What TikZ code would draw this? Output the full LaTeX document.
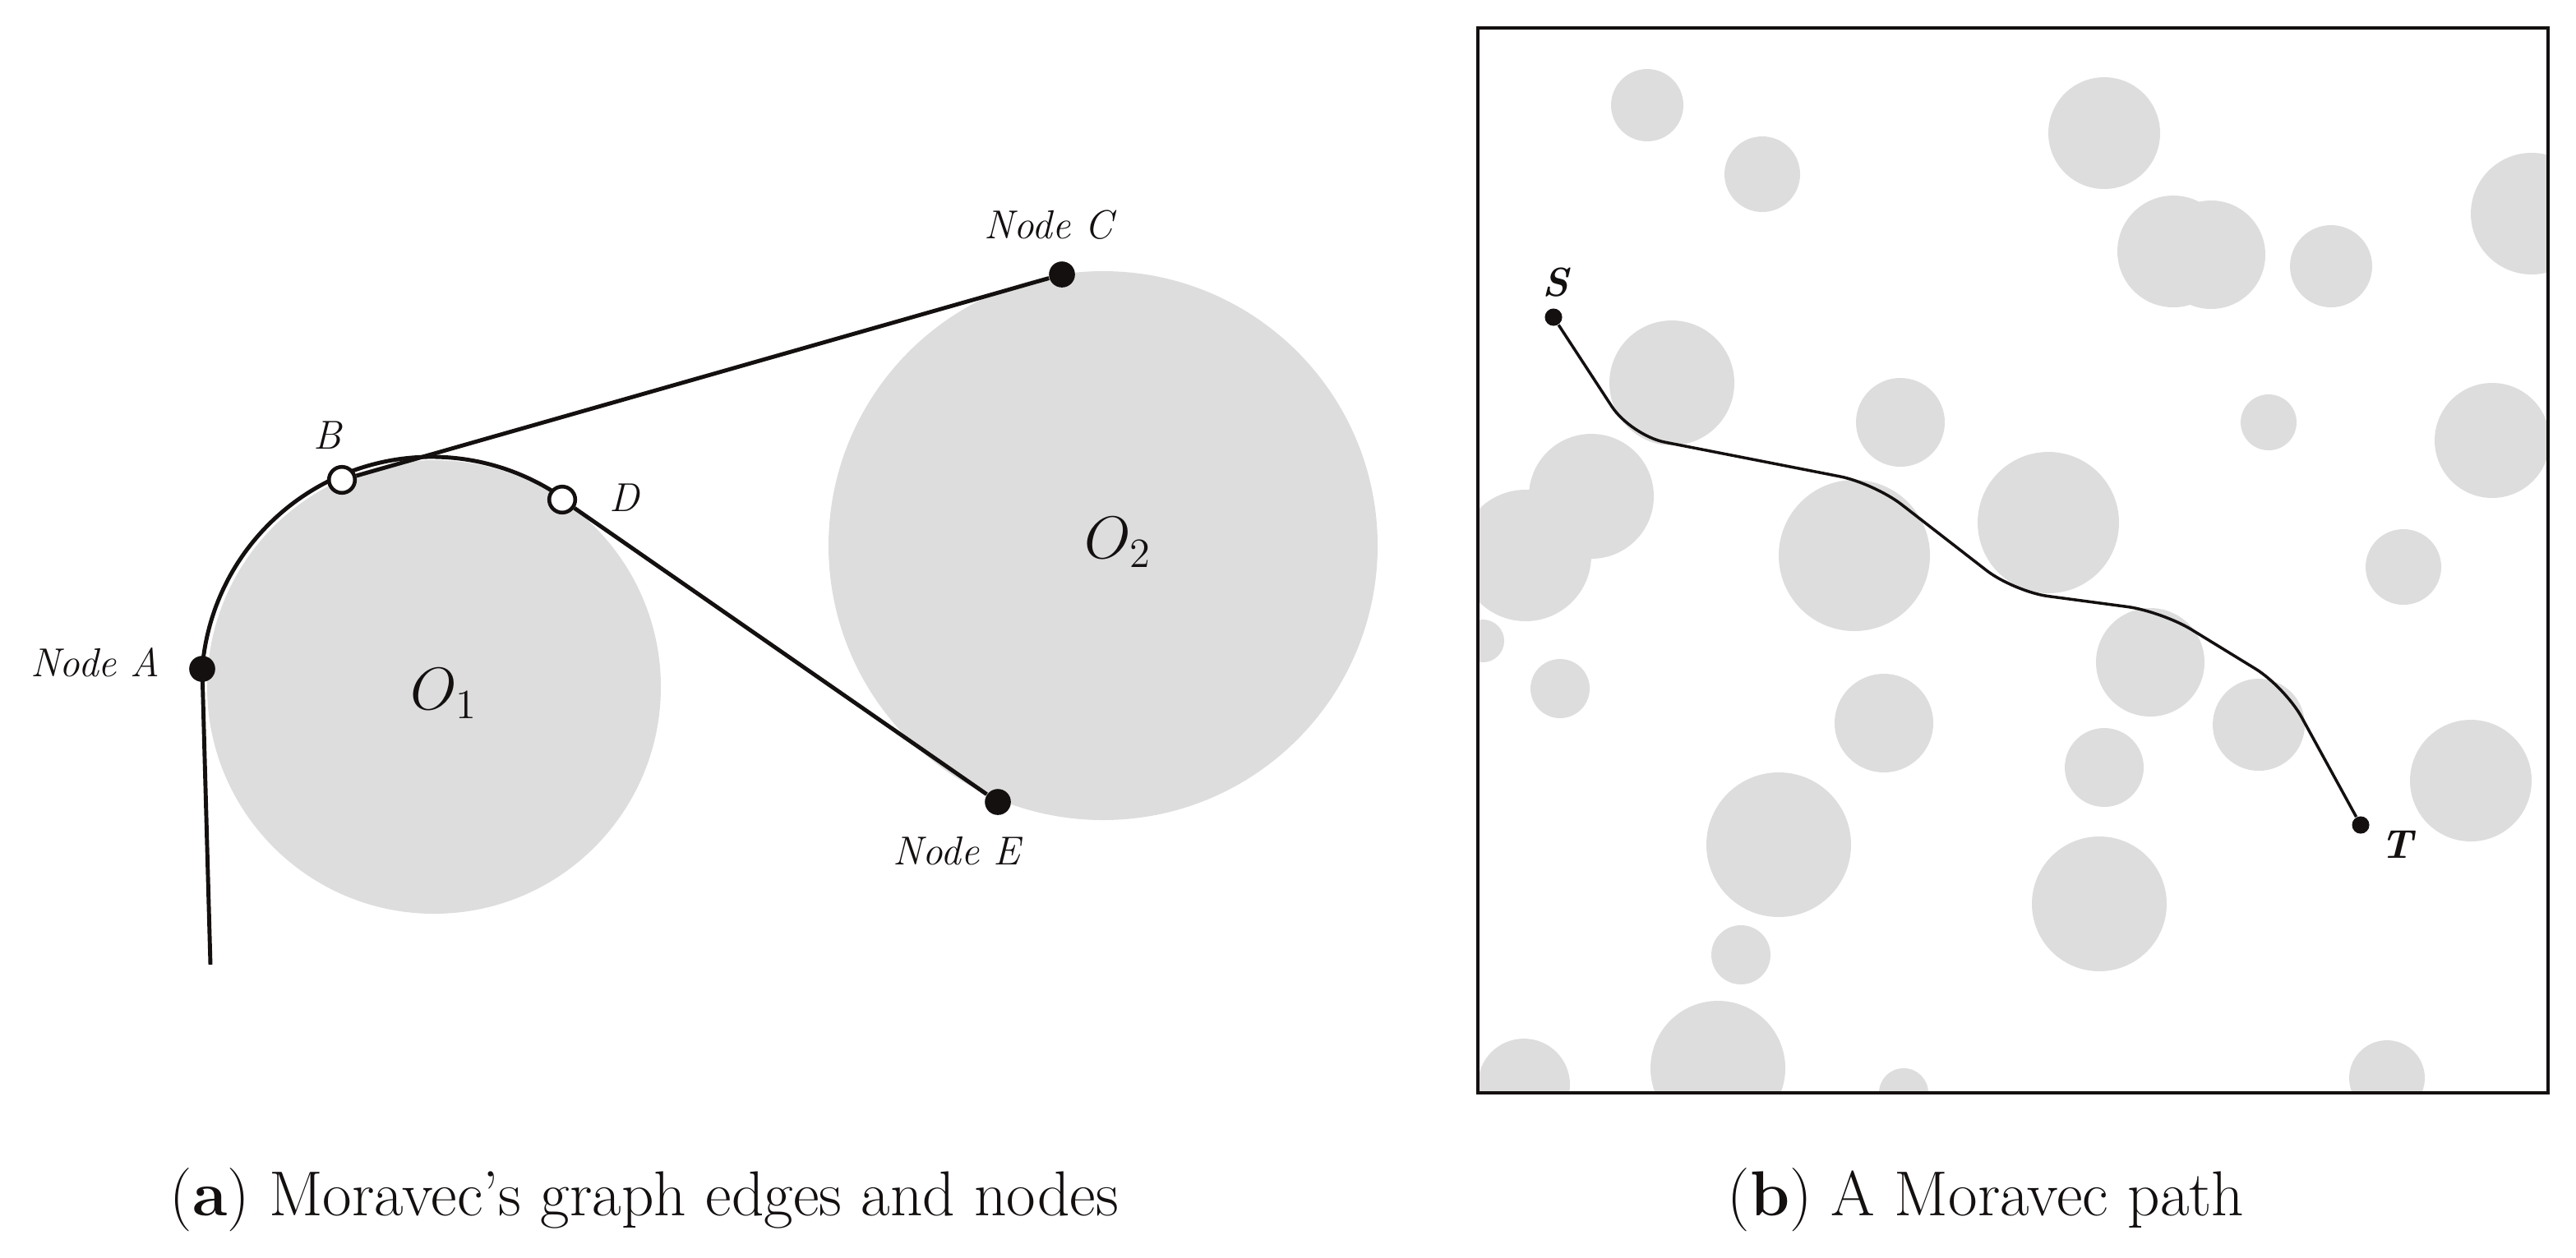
\documentclass[tikz,border=0pt]{standalone}
\usepackage{tikz}
\usepackage{xcolor}
\definecolor{obstgray}{RGB}{221, 221, 221}
\definecolor{inkdark}{RGB}{20, 16, 16}

\begin{document}
\begin{tikzpicture}[
    x=0.02cm, y=-0.02cm,
    obst/.style={fill=obstgray, draw=none},
    edge/.style={draw=inkdark, line width=1.4pt},
    pathline/.style={draw=inkdark, line width=1pt, rounded corners=12pt},
    solid dot/.style={circle, fill=inkdark, inner sep=0pt, minimum size=9pt},
    open dot/.style={circle, draw=inkdark, fill=white, line width=1.3pt, inner sep=0pt, minimum size=9pt},
    small dot/.style={circle, fill=inkdark, inner sep=0pt, minimum size=6pt},
    lbl/.style={font=\fontsize{14}{16}\selectfont\itshape, text=inkdark},
    caption/.style={font=\fontsize{22}{26}\selectfont, text=inkdark}
]
\useasboundingbox (0,0) rectangle (1567,765);

% (a) obstacles
\fill[obst] (264,418) circle (138);
\fill[obst] (671,332) circle (167);
\node[lbl, font=\fontsize{20}{24}\selectfont\itshape] (o1) at (270,422) {$O_1$};
\node[lbl, font=\fontsize{20}{24}\selectfont\itshape] (o2) at (680,330) {$O_2$};

% (a) edges
\coordinate (bottom) at (128,587);
\draw[edge] (bottom) -- (123,407) arc[start angle=184.5, end angle=304.4, radius=140];
\node[solid dot] (na) at (123,407) {};
\node[solid dot] (nc) at (646,167) {};
\node[solid dot] (ne) at (607,488) {};
\node[open dot] (nb) at (208,292) {};
\node[open dot] (nd) at (342,304) {};
\draw[edge] (nb) -- (nc);
\draw[edge] (nd) -- (ne);

\node[lbl] at (638,137) {Node C};
\node[lbl] at (199,265) {B};
\node[lbl] at (380,303) {D};
\node[lbl] at (58,403) {Node A};
\node[lbl] at (582,518) {Node E};

% (b) frame and obstacles
\begin{scope}
\clip (899,17) rectangle (1550,665);
\foreach \cx/\cy/\r in {1002/64/22, 1072/106/23, 1280/81/34, 1540/130/37, 1322/153/34,
    1345/155/33, 1418/162/25, 1017/233/38, 1156/257/27, 1380/257/17, 1516/268/35,
    968/302/38, 928/338/40, 1128/338/46, 1246/318/43, 1462/345/23, 902/390/13,
    949/419/18, 1308/403/33, 1146/440/30, 1374/441/28, 1280/467/24, 1503/475/37,
    1082/514/44, 1277/550/41, 1059/581/18, 1045/650/41, 927/660/28, 1158/665/15,
    1452/656/23}
  \fill[obst] (\cx,\cy) circle (\r);
\end{scope}
\draw[inkdark, line width=1.3pt] (899,17) rectangle (1550,665);

% (b) path
\node[small dot] (s) at (945,193) {};
\node[small dot] (t) at (1436,502) {};
\draw[pathline] (s) -- (992,265) -- (1140,294) -- (1225,360) -- (1315,372) -- (1390,418) -- (t);
\node[lbl, font=\fontsize{14}{16}\selectfont\bfseries\itshape] at (946,172) {S};
\node[lbl, font=\fontsize{14}{16}\selectfont\bfseries\itshape] at (1458,514) {T};

% captions
\node[caption] at (392,730) {(\textbf{a}) Moravec's graph edges and nodes};
\node[caption] at (1208,730) {(\textbf{b}) A Moravec path};
\end{tikzpicture}
\end{document}
